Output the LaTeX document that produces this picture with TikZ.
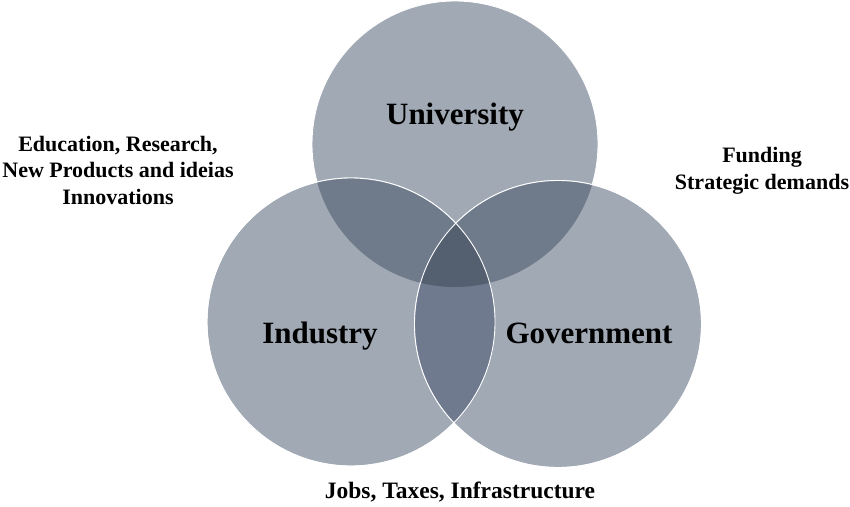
\documentclass[tikz,border=0pt]{standalone}
\usepackage{fontspec}
\setmainfont{Liberation Serif}
\definecolor{cSingle}{HTML}{A1A9B5}
\definecolor{cDouble}{HTML}{6F7B8B}
\definecolor{cDoubleIG}{HTML}{6F7A8E}
\definecolor{cTriple}{HTML}{545F6F}
\tikzset{
  circ/.style={fill=cSingle, draw=white, line width=0.9pt},
  edge/.style={draw=white, line width=0.9pt},
  big/.style={font=\fontsize{31}{36}\selectfont\bfseries, inner sep=0pt},
  side/.style={font=\fontsize{22}{26.5}\selectfont\bfseries, align=center, inner sep=0pt}
}
\begin{document}
\begin{tikzpicture}[x=1pt,y=-1pt]
\useasboundingbox (0,0) rectangle (850,506);
\coordinate (cu) at (455,144);
\coordinate (ci) at (351,322);
\coordinate (cg) at (558,324);
\def\ru{143}\def\ri{144}\def\rg{143.5}
% base circles
\path[circ] (cu) circle[radius=\ru];
\path[circ] (ci) circle[radius=\ri];
\path[circ] (cg) circle[radius=\rg];
% pairwise overlaps
\begin{scope}
  \clip (cu) circle[radius=\ru];
  \fill[cDouble] (ci) circle[radius=\ri];
  \fill[cDouble] (cg) circle[radius=\rg];
\end{scope}
\begin{scope}
  \clip (ci) circle[radius=\ri];
  \fill[cDoubleIG] (cg) circle[radius=\rg];
  \clip (cg) circle[radius=\rg];
  \fill[cTriple] (cu) circle[radius=\ru];
\end{scope}
% borders of lower circles
\path[edge] (ci) circle[radius=\ri];
\path[edge] (cg) circle[radius=\rg];
% labels
\node[big] (univ) at (455,117) {University};
\node[big] (ind) at (320,336) {Industry};
\node[big] (gov) at (589,333) {Government};
\node[side] (left) at (118,170) {Education, Research,\\New Products and ideias\\Innovations};
\node[side] (right) at (762,171) {Funding\\Strategic demands};
\node[side, font=\fontsize{23.5}{27}\selectfont\bfseries] (bottom) at (460,492) {Jobs, Taxes, Infrastructure};
\end{tikzpicture}
\end{document}
